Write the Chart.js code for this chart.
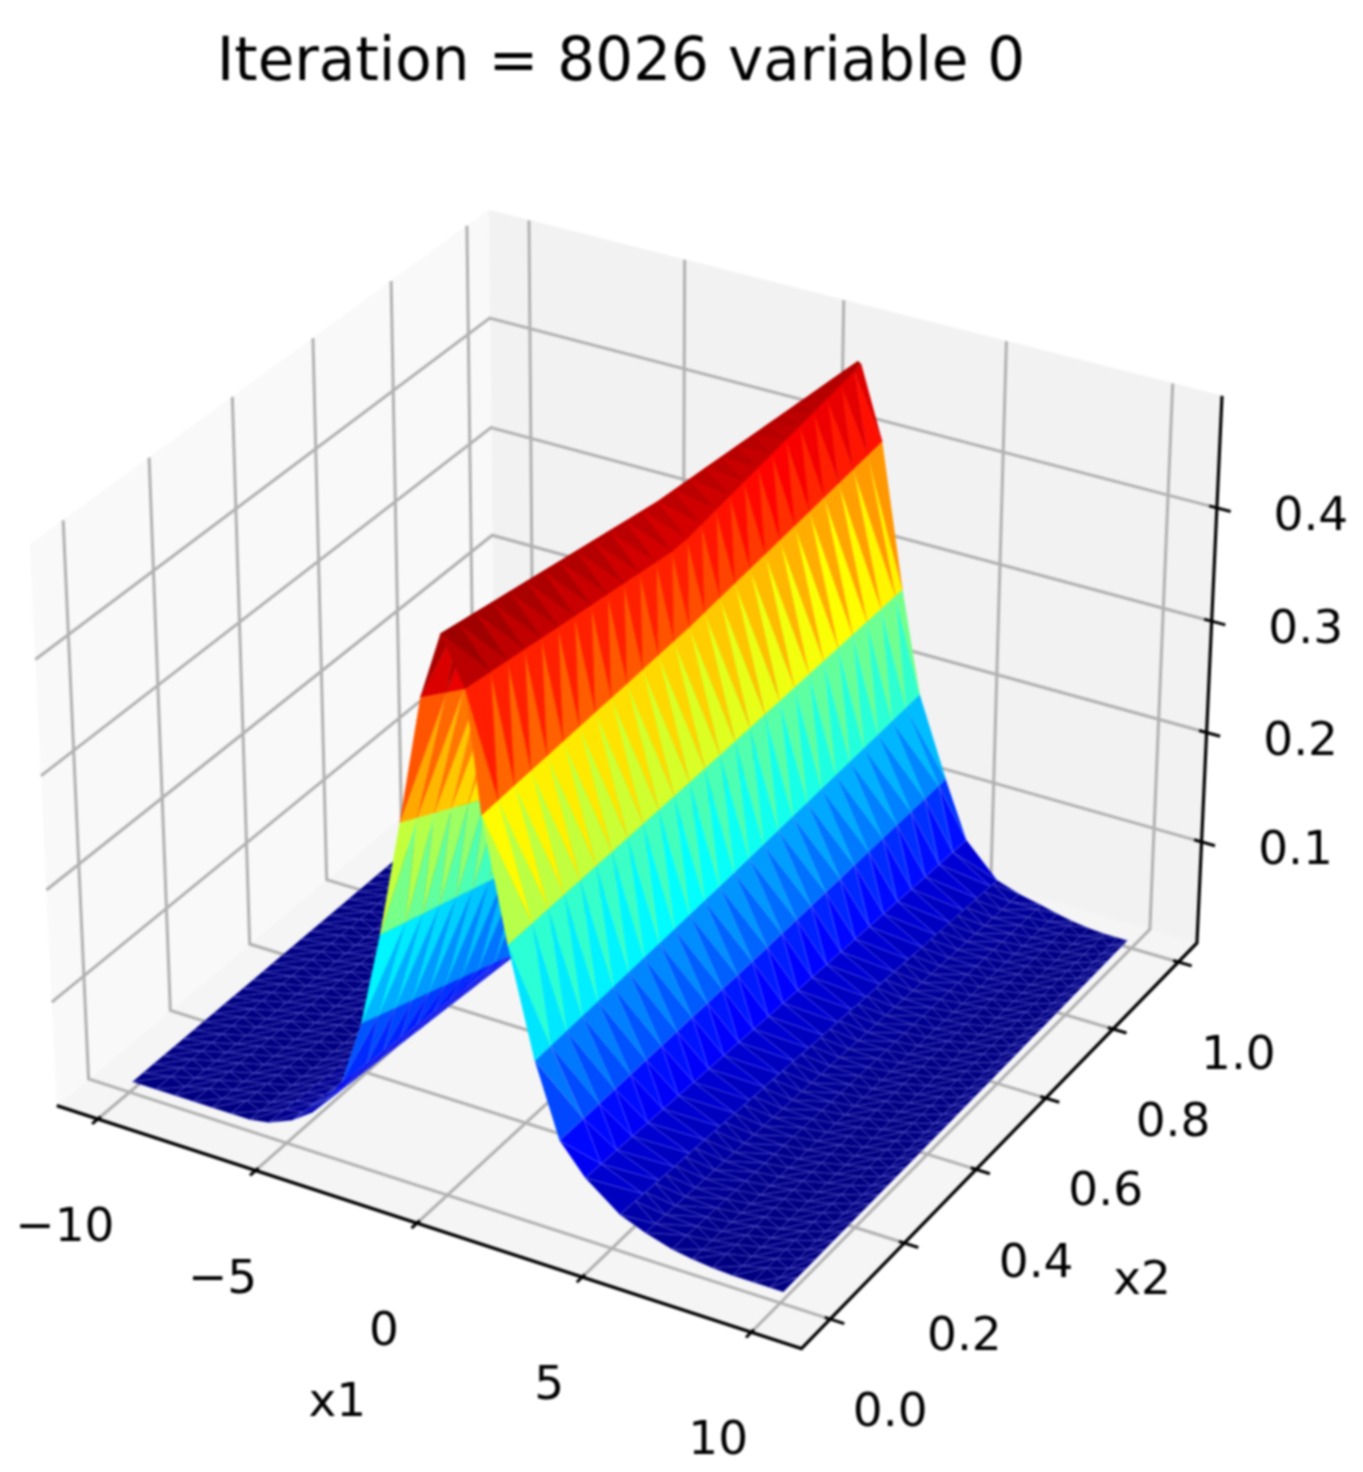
<!DOCTYPE html>
<html>
<head>
<meta charset="utf-8">
<title>Iteration = 8026 variable 0</title>
<script src="https://cdn.jsdelivr.net/npm/chart.js@4/dist/chart.umd.js"></script>
<style>
  html, body { margin: 0; padding: 0; background: #fff; }
  canvas { display: block; filter: blur(1.2px); }
</style>
</head>
<body>
<canvas id="chart" width="1363" height="1472"></canvas>
<script>
const chartTitle = 'Iteration = 8026 variable 0';
const x1Ticks = [-10, -5, 0, 5, 10];
const x2Ticks = [0, 0.2, 0.4, 0.6, 0.8, 1];
const zTicks = [0.1, 0.2, 0.3, 0.4];
const x1Lim = [-11.32, 11.46];
const x2Lim = [-0.076, 1.058];
const zLim = [0.006, 0.497];

// surface: node positions and heights at three x2 stations
const x2Rows = [0.026, 0.52, 1.018];
const x1Front = [-10.25,-9.5,-8.9,-8.3,-7.7,-7.1,-6.5,-5.9,-5.15,-4.5,-4.0,-3.55,-2.89,-2.25,-1.58,-0.89,-0.26,0.44,0.88,1.62,2.4,3.13,3.9,4.94,5.7,6.5,7.1,7.7,8.3,8.9,9.4,9.8];
const x1Mid = [-10.25,-9.4,-8.75,-8.1,-7.45,-6.8,-6.15,-5.5,-4.58,-3.9,-3.4,-2.95,-2.29,-1.65,-0.98,-0.29,0.32,1.0,1.29,2.02,2.71,3.52,4.25,5.27,6.0,6.75,7.3,7.85,8.4,8.95,9.43,9.76];
const x1Back = [-10.25,-9.3,-8.6,-7.9,-7.2,-6.5,-5.8,-5.1,-4.0,-3.3,-2.8,-2.35,-1.69,-1.05,-0.38,0.31,0.9,1.0,1.69,2.41,3.02,3.9,4.6,5.6,6.3,7.0,7.5,8.0,8.5,9.0,9.4,9.7];
const zFront = [.005,.005,.005,.005,.005,.005,.005,.008,.017,.03,.047,.066,.125,.209,.312,.424,.482,.442,.339,.234,.14,.076,.05,.027,.018,.011,.008,.006,.005,.005,.005,.005];
const zMid = [.005,.005,.005,.005,.005,.005,.005,.007,.016,.03,.046,.064,.065,.159,.225,.324,.463,.43,.362,.25,.157,.09,.052,.026,.018,.012,.009,.007,.006,.005,.005,.005];
const zBack = [.005,.005,.005,.005,.005,.005,.005,.007,.016,.03,.046,.062,.118,.198,.295,.405,.46,.458,.395,.268,.177,.106,.055,.026,.019,.0146,.011,.008,.006,.005,.005,.005];

// mplot3d view, elev 30 azim -60
const BOX = 1.1905, BOXZ = 0.8929, DIST = 10;
const cosE = Math.cos(Math.PI / 6), sinE = 0.5;
const cosA = 0.5, sinA = -cosE;

function view(xf, yf, zf) {
  const px = (xf - 0.5) * BOX, py = (yf - 0.5) * BOX, pz = (zf - 0.5) * BOXZ;
  const X = -sinA * px + cosA * py;
  const Y = -sinE * cosA * px - sinE * sinA * py + cosE * pz;
  const Z = cosE * cosA * px + cosE * sinA * py + sinE * pz;
  const f = DIST / (DIST - Z);
  return { x: X * f, y: Y * f, depth: Z };
}

function frac(v, lim) { return (v - lim[0]) / (lim[1] - lim[0]); }
function project(x1, x2, z) { return view(frac(x1, x1Lim), frac(x2, x2Lim), frac(z, zLim)); }

function jet(v) {
  const c = t => Math.round(255 * Math.max(0, Math.min(1, t)));
  return `rgb(${c(1.5 - Math.abs(4 * v - 3))},${c(1.5 - Math.abs(4 * v - 2))},${c(1.5 - Math.abs(4 * v - 1))})`;
}

function node(i, t) {
  // t runs over the surface from front row to back row
  const x2 = x2Rows[0] + t * (x2Rows[2] - x2Rows[0]);
  const k = frac(x2, [x2Rows[0], x2Rows[1]]);
  const h = frac(x2, [x2Rows[1], x2Rows[2]]);
  const x1 = k < 1 ? x1Front[i] + k * (x1Mid[i] - x1Front[i]) : x1Mid[i] + h * (x1Back[i] - x1Mid[i]);
  const z = k < 1 ? zFront[i] + k * (zMid[i] - zFront[i]) : zMid[i] + h * (zBack[i] - zMid[i]);
  return { x1, x2, z };
}

const zMin = Math.min(...zFront, ...zBack), zMax = Math.max(...zFront, ...zBack);
const triangles = [];
for (let i = 0; i < x1Front.length - 1; i++) {
  const flat = Math.max(zFront[i], zFront[i + 1], zBack[i], zBack[i + 1]) < 0.03;
  const M = flat ? 40 : 26;
  for (let j = 0; j < M; j++) {
    const s = k => Math.max(0, Math.min(1, (k + (i % 2 ? 0.5 : 0)) / M));
    const e = k => Math.max(0, Math.min(1, (k + (i % 2 ? 0 : 0.5)) / M));
    const a = node(i, j === 0 ? 0 : s(j)), b = node(i + 1, j === 0 ? 0 : e(j));
    const c = node(i + 1, j === M - 1 ? 1 : e(j + 1)), d = node(i, j === M - 1 ? 1 : s(j + 1));
    [[a, b, c], [a, c, d]].forEach(tri => {
      const mean = (tri[0].z + tri[1].z + tri[2].z) / 3;
      const pts = tri.map(p => project(p.x1, p.x2, p.z));
      triangles.push({
        pts,
        flat,
        mean,
        color: jet((mean - zMin) / (zMax - zMin)),
        depth: (pts[0].depth + pts[1].depth + pts[2].depth) / 3
      });
    });
  }
}
triangles.sort((p, q) => q.depth - p.depth);

const datasets = [];

function seamColor(t) {
  if (t.flat) return 'rgba(95,95,215,0.6)';
  if (t.mean < 0.12) return 'rgba(110,130,255,0.35)';
  return t.color;
}

function addTriangle(t) {
  datasets.push({
    type: 'scatter',
    data: t.pts.map(p => ({ x: p.x, y: p.y })).concat([{ x: t.pts[0].x, y: t.pts[0].y }]),
    showLine: true,
    fill: 'shape',
    backgroundColor: t.color,
    borderColor: seamColor(t),
    borderWidth: t.mean < 0.12 ? 0.7 : 0.4,
    pointRadius: 0,
    tension: 0
  });
}

function addLine(points, color, width) {
  datasets.push({
    type: 'scatter',
    data: points.map(p => ({ x: p.x, y: p.y })),
    showLine: true,
    fill: false,
    borderColor: color,
    borderWidth: width,
    pointRadius: 0,
    tension: 0
  });
}

function addPane(points, color) {
  datasets.push({
    type: 'scatter',
    data: points.map(p => ({ x: p.x, y: p.y })),
    showLine: true,
    fill: 'shape',
    backgroundColor: color,
    borderColor: color,
    borderWidth: 1,
    pointRadius: 0,
    tension: 0
  });
}

// surface first: chart.js paints the first dataset last
triangles.forEach(addTriangle);

const GRID = '#b0b0b0', AXIS = '#000000';

x1Ticks.forEach(v => {
  const xf = frac(v, x1Lim);
  addLine([view(xf, -0.012, 0), view(xf, 0.006, 0)], AXIS, 3);
});
x2Ticks.forEach(v => {
  const yf = frac(v, x2Lim);
  addLine([view(0.993, yf, 0), view(1.018, yf, 0)], AXIS, 3);
});
zTicks.forEach(v => {
  const zf = frac(v, zLim);
  addLine([view(0.99, 1, zf), view(1.018, 1, zf)], AXIS, 3);
});
addLine([view(0, 0, 0), view(1, 0, 0), view(1, 1, 0), view(1, 1, 1)], AXIS, 3.2);

x1Ticks.forEach(v => {
  const xf = frac(v, x1Lim);
  addLine([view(xf, 0, 0), view(xf, 1, 0), view(xf, 1, 1)], GRID, 3);
});
x2Ticks.forEach(v => {
  const yf = frac(v, x2Lim);
  addLine([view(1, yf, 0), view(0, yf, 0), view(0, yf, 1)], GRID, 3);
});
zTicks.forEach(v => {
  const zf = frac(v, zLim);
  addLine([view(0, 0, zf), view(0, 1, zf), view(1, 1, zf)], GRID, 3);
});

addPane([view(0, 0, 0), view(0, 1, 0), view(0, 1, 1), view(0, 0, 1)], '#f9f9f9');
addPane([view(0, 1, 0), view(1, 1, 0), view(1, 1, 1), view(0, 1, 1)], '#f2f2f2');
addPane([view(0, 0, 0), view(1, 0, 0), view(1, 1, 0), view(0, 1, 0)], '#f5f5f5');

const textPlugin = {
  id: 'axisText',
  afterDatasetsDraw(chart) {
    const { ctx, scales } = chart;
    const put = (text, p, dx, dy, font) => {
      ctx.font = font;
      ctx.fillText(text, scales.x.getPixelForValue(p.x) + dx, scales.y.getPixelForValue(p.y) + dy);
    };
    const tickFont = '47px "DejaVu Sans"';
    ctx.save();
    ctx.fillStyle = '#000';
    ctx.textAlign = 'center';
    ctx.textBaseline = 'middle';
    x1Ticks.forEach(v => {
      put(String(v).replace('-', '\u2212'), view(frac(v, x1Lim), 0, 0), -33, 110, tickFont);
    });
    x2Ticks.forEach(v => {
      put(v.toFixed(1), view(1, frac(v, x2Lim), 0), 60, 95, tickFont);
    });
    zTicks.forEach(v => {
      put(v.toFixed(1), view(1, 1, frac(v, zLim)), 94, 10, tickFont);
    });
    put('x1', view(0.5, 0, 0), -82, 180, tickFont);
    put('x2', view(1, 0.5, 0), 134, 145, tickFont);
    ctx.font = '59.6px "DejaVu Sans"';
    ctx.fillText(chartTitle, 621, 65);
    ctx.restore();
  }
};

new Chart(document.getElementById('chart'), {
  type: 'scatter',
  data: { datasets },
  options: {
    responsive: false,
    animation: false,
    events: [],
    layout: { padding: 0 },
    scales: {
      x: { type: 'linear', display: false, min: -637.4 / 716.5, max: (1363 - 637.4) / 716.5 },
      y: { type: 'linear', display: false, min: (752 - 1472) / 716, max: 752 / 716 }
    },
    plugins: { legend: { display: false }, tooltip: { enabled: false }, title: { display: false } }
  },
  plugins: [textPlugin]
});
</script>
</body>
</html>
